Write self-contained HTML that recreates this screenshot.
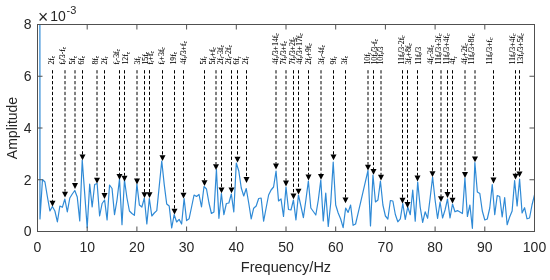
<!DOCTYPE html>
<html><head><meta charset="utf-8"><style>
html,body{margin:0;padding:0;background:#fff;}
svg{display:block;}
.ax{font-family:"Liberation Sans",Arial,sans-serif;fill:#262626;font-size:14px;}
.lb{font-family:"Liberation Serif","Times New Roman",serif;fill:#000;stroke:#000;stroke-width:0.6px;font-size:79.0px;}
.lb .s{font-size:54.0px;}
</style></head><body>
<svg width="550" height="280" viewBox="0 0 550 280">
<rect x="0" y="0" width="550" height="280" fill="#fff"/>
<defs><clipPath id="c"><rect x="37.50" y="24.50" width="497.00" height="207.00"/></clipPath></defs>
<polyline clip-path="url(#c)" points="37.50,-5000.00 39.98,219.00 42.47,179.50 44.95,182.00 47.44,197.00 49.92,211.00 52.41,206.50 54.89,211.00 57.38,221.80 59.86,206.00 62.35,207.30 64.83,199.00 67.32,211.80 69.81,198.00 72.29,194.00 74.78,190.50 77.26,197.00 79.75,221.00 82.23,160.00 84.72,193.90 87.20,227.70 89.69,184.00 92.17,207.00 94.66,184.50 97.14,183.50 99.62,216.00 102.11,203.50 104.59,200.00 107.08,220.00 109.56,185.00 112.05,188.50 114.53,214.70 117.02,200.00 119.50,179.00 121.99,224.70 124.47,180.00 126.96,198.00 129.44,211.00 131.93,213.50 134.41,215.30 136.90,184.00 139.38,205.00 141.87,207.00 144.35,198.00 146.84,224.00 149.32,198.50 151.81,216.00 154.29,213.00 156.78,210.60 159.26,186.00 161.75,161.00 164.24,184.60 166.72,204.00 169.20,206.00 171.69,228.00 174.17,214.70 176.66,222.00 179.14,219.40 181.63,224.00 184.11,198.50 186.60,220.60 189.08,218.80 191.57,207.00 194.05,195.00 196.54,196.50 199.03,194.50 201.51,207.00 204.00,186.50 206.48,189.00 208.97,203.00 211.45,213.50 213.94,212.00 216.42,169.50 218.91,218.30 221.39,193.50 223.88,214.70 226.36,203.50 228.84,203.00 231.33,194.00 233.81,211.80 236.30,163.00 238.78,171.00 241.27,188.00 243.75,196.00 246.24,188.50 248.72,203.00 251.21,218.80 253.69,208.20 256.18,206.00 258.66,198.50 261.15,198.00 263.63,221.20 266.12,208.00 268.61,195.00 271.09,190.00 273.57,187.00 276.06,171.00 278.54,201.00 281.03,199.00 283.51,216.50 286.00,187.00 288.49,209.50 290.97,210.00 293.45,200.00 295.94,220.00 298.43,195.00 300.91,206.00 303.39,217.70 305.88,200.00 308.37,181.00 310.85,208.00 313.33,211.50 315.82,215.00 318.31,200.00 320.79,180.00 323.27,221.00 325.76,193.00 328.25,226.50 330.73,203.00 333.21,162.00 335.70,205.00 338.19,213.00 340.67,219.00 343.15,227.70 345.64,208.00 348.12,212.40 350.61,205.00 353.09,225.30 355.58,224.00 358.06,213.30 360.55,202.60 363.03,191.90 365.52,181.20 368.00,170.50 370.49,226.00 372.97,175.00 375.46,202.00 377.94,200.00 380.43,181.00 382.91,205.00 385.40,216.00 387.88,219.00 390.37,200.50 392.85,201.00 395.34,214.50 397.82,221.80 400.31,218.80 402.79,203.50 405.28,219.40 407.76,207.00 410.25,214.70 412.73,190.00 415.22,221.20 417.70,182.00 420.19,207.00 422.67,222.40 425.16,211.80 427.64,218.30 430.13,198.00 432.61,177.00 435.10,200.00 437.58,218.50 440.07,202.00 442.56,218.00 445.04,210.00 447.52,199.00 450.01,218.00 452.50,204.00 454.98,211.80 457.46,210.60 459.95,212.00 462.44,213.50 464.92,178.00 467.40,216.50 469.89,205.00 472.38,228.30 474.86,162.50 477.34,192.00 479.83,193.50 482.31,211.00 484.80,220.00 487.28,219.00 489.77,208.00 492.25,184.50 494.74,214.70 497.22,195.50 499.71,196.50 502.19,217.00 504.68,197.50 507.16,224.70 509.65,217.00 512.13,211.00 514.62,180.50 517.11,206.00 519.59,179.00 522.08,213.00 524.56,207.70 527.04,218.80 529.53,218.00 532.01,205.00 534.50,195.00" fill="none" stroke="#2f8ad6" stroke-width="1.2" stroke-linejoin="round"/>
<g stroke="#000" stroke-width="1" stroke-dasharray="3.3,2.1" fill="none"><line x1="52.50" y1="70.20" x2="52.50" y2="200.80"/><line x1="65.00" y1="70.20" x2="65.00" y2="191.70"/><line x1="75.00" y1="70.20" x2="75.00" y2="183.10"/><line x1="82.50" y1="70.20" x2="82.50" y2="154.50"/><line x1="97.00" y1="70.20" x2="97.00" y2="177.70"/><line x1="104.50" y1="70.20" x2="104.50" y2="193.10"/><line x1="119.50" y1="70.20" x2="119.50" y2="173.90"/><line x1="124.50" y1="70.20" x2="124.50" y2="175.70"/><line x1="137.00" y1="70.20" x2="137.00" y2="178.60"/><line x1="144.50" y1="70.20" x2="144.50" y2="192.20"/><line x1="149.50" y1="70.20" x2="149.50" y2="192.20"/><line x1="162.50" y1="70.20" x2="162.50" y2="155.20"/><line x1="174.50" y1="70.20" x2="174.50" y2="208.80"/><line x1="183.50" y1="70.20" x2="183.50" y2="192.80"/><line x1="204.50" y1="70.20" x2="204.50" y2="180.20"/><line x1="216.00" y1="70.20" x2="216.00" y2="164.20"/><line x1="221.50" y1="70.20" x2="221.50" y2="187.40"/><line x1="231.50" y1="70.20" x2="231.50" y2="187.40"/><line x1="237.50" y1="70.20" x2="237.50" y2="156.80"/><line x1="246.50" y1="70.20" x2="246.50" y2="177.10"/><line x1="276.00" y1="70.20" x2="276.00" y2="163.60"/><line x1="286.00" y1="70.20" x2="286.00" y2="180.60"/><line x1="293.50" y1="70.20" x2="293.50" y2="193.50"/><line x1="298.50" y1="70.20" x2="298.50" y2="188.80"/><line x1="308.50" y1="70.20" x2="308.50" y2="174.60"/><line x1="321.00" y1="70.20" x2="321.00" y2="173.90"/><line x1="333.50" y1="70.20" x2="333.50" y2="154.50"/><line x1="345.50" y1="70.20" x2="345.50" y2="197.50"/><line x1="368.00" y1="70.20" x2="368.00" y2="164.80"/><line x1="373.50" y1="70.20" x2="373.50" y2="169.00"/><line x1="381.00" y1="70.20" x2="381.00" y2="174.80"/><line x1="402.50" y1="70.20" x2="402.50" y2="197.80"/><line x1="407.50" y1="70.20" x2="407.50" y2="202.10"/><line x1="417.50" y1="70.20" x2="417.50" y2="175.60"/><line x1="432.50" y1="70.20" x2="432.50" y2="171.30"/><line x1="441.00" y1="70.20" x2="441.00" y2="196.30"/><line x1="447.50" y1="70.20" x2="447.50" y2="192.10"/><line x1="452.50" y1="70.20" x2="452.50" y2="197.80"/><line x1="465.00" y1="70.20" x2="465.00" y2="172.10"/><line x1="475.00" y1="70.20" x2="475.00" y2="156.40"/><line x1="493.50" y1="70.20" x2="493.50" y2="177.60"/><line x1="515.50" y1="70.20" x2="515.50" y2="173.70"/><line x1="519.50" y1="70.20" x2="519.50" y2="171.40"/></g>
<g fill="#000" stroke="none"><polygon points="49.50,200.80 55.50,200.80 52.50,206.60"/><polygon points="62.00,191.70 68.00,191.70 65.00,197.50"/><polygon points="72.00,183.10 78.00,183.10 75.00,188.90"/><polygon points="79.50,154.50 85.50,154.50 82.50,160.30"/><polygon points="94.00,177.70 100.00,177.70 97.00,183.50"/><polygon points="101.50,193.10 107.50,193.10 104.50,198.90"/><polygon points="116.50,173.90 122.50,173.90 119.50,179.70"/><polygon points="121.50,175.70 127.50,175.70 124.50,181.50"/><polygon points="134.00,178.60 140.00,178.60 137.00,184.40"/><polygon points="141.50,192.20 147.50,192.20 144.50,198.00"/><polygon points="146.50,192.20 152.50,192.20 149.50,198.00"/><polygon points="159.50,155.20 165.50,155.20 162.50,161.00"/><polygon points="171.50,208.80 177.50,208.80 174.50,214.60"/><polygon points="180.50,192.80 186.50,192.80 183.50,198.60"/><polygon points="201.50,180.20 207.50,180.20 204.50,186.00"/><polygon points="213.00,164.20 219.00,164.20 216.00,170.00"/><polygon points="218.50,187.40 224.50,187.40 221.50,193.20"/><polygon points="228.50,187.40 234.50,187.40 231.50,193.20"/><polygon points="234.50,156.80 240.50,156.80 237.50,162.60"/><polygon points="243.50,177.10 249.50,177.10 246.50,182.90"/><polygon points="273.00,163.60 279.00,163.60 276.00,169.40"/><polygon points="283.00,180.60 289.00,180.60 286.00,186.40"/><polygon points="290.50,193.50 296.50,193.50 293.50,199.30"/><polygon points="295.50,188.80 301.50,188.80 298.50,194.60"/><polygon points="305.50,174.60 311.50,174.60 308.50,180.40"/><polygon points="318.00,173.90 324.00,173.90 321.00,179.70"/><polygon points="330.50,154.50 336.50,154.50 333.50,160.30"/><polygon points="342.50,197.50 348.50,197.50 345.50,203.30"/><polygon points="365.00,164.80 371.00,164.80 368.00,170.60"/><polygon points="370.50,169.00 376.50,169.00 373.50,174.80"/><polygon points="378.00,174.80 384.00,174.80 381.00,180.60"/><polygon points="399.50,197.80 405.50,197.80 402.50,203.60"/><polygon points="404.50,202.10 410.50,202.10 407.50,207.90"/><polygon points="414.50,175.60 420.50,175.60 417.50,181.40"/><polygon points="429.50,171.30 435.50,171.30 432.50,177.10"/><polygon points="438.00,196.30 444.00,196.30 441.00,202.10"/><polygon points="444.50,192.10 450.50,192.10 447.50,197.90"/><polygon points="449.50,197.80 455.50,197.80 452.50,203.60"/><polygon points="462.00,172.10 468.00,172.10 465.00,177.90"/><polygon points="472.00,156.40 478.00,156.40 475.00,162.20"/><polygon points="490.50,177.60 496.50,177.60 493.50,183.40"/><polygon points="512.50,173.70 518.50,173.70 515.50,179.50"/><polygon points="516.50,171.40 522.50,171.40 519.50,177.20"/></g>
<g class="lb"><text transform="translate(53.60,64.60) rotate(-90) scale(0.0990,0.1)"><tspan dy="-0.00">2f</tspan><tspan class="s" dx="-2.00" dy="12.00">c</tspan></text><text transform="translate(65.00,64.60) rotate(-90) scale(0.0990,0.1)"><tspan dy="-0.00">f</tspan><tspan class="s" dx="-2.00" dy="12.00">r</tspan><tspan dy="-12.00">/3-f</tspan><tspan class="s" dx="-2.00" dy="12.00">c</tspan></text><text transform="translate(75.40,64.60) rotate(-90) scale(0.0990,0.1)"><tspan dy="-0.00">5f</tspan><tspan class="s" dx="-2.00" dy="12.00">c</tspan></text><text transform="translate(83.50,64.60) rotate(-90) scale(0.0990,0.1)"><tspan dy="-0.00">6f</tspan><tspan class="s" dx="-2.00" dy="12.00">c</tspan></text><text transform="translate(97.80,64.60) rotate(-90) scale(0.0990,0.1)"><tspan dy="-0.00">8f</tspan><tspan class="s" dx="-2.00" dy="12.00">c</tspan></text><text transform="translate(106.70,64.60) rotate(-90) scale(0.0990,0.1)"><tspan dy="-0.00">2f</tspan><tspan class="s" dx="-2.00" dy="12.00">r</tspan></text><text transform="translate(119.20,64.60) rotate(-90) scale(0.0990,0.1)"><tspan dy="-0.00">f</tspan><tspan class="s" dx="-2.00" dy="12.00">r</tspan><tspan dy="-12.00">-3f</tspan><tspan class="s" dx="-2.00" dy="12.00">c</tspan></text><text transform="translate(128.40,64.60) rotate(-90) scale(0.0990,0.1)"><tspan dy="-0.00">12f</tspan><tspan class="s" dx="-2.00" dy="12.00">c</tspan></text><text transform="translate(140.20,64.60) rotate(-90) scale(0.0990,0.1)"><tspan dy="-0.00">3f</tspan><tspan class="s" dx="-2.00" dy="12.00">r</tspan></text><text transform="translate(147.50,64.60) rotate(-90) scale(0.0990,0.1)"><tspan dy="-0.00">15f</tspan><tspan class="s" dx="-2.00" dy="12.00">c</tspan></text><text transform="translate(152.50,64.60) rotate(-90) scale(0.0990,0.1)"><tspan dy="-0.00">f</tspan><tspan class="s" dx="-2.00" dy="12.00">r</tspan><tspan dy="-12.00">+f</tspan><tspan class="s" dx="-2.00" dy="12.00">c</tspan></text><text transform="translate(163.70,64.60) rotate(-90) scale(0.0990,0.1)"><tspan dy="-0.00">f</tspan><tspan class="s" dx="-2.00" dy="12.00">r</tspan><tspan dy="-12.00">+3f</tspan><tspan class="s" dx="-2.00" dy="12.00">c</tspan></text><text transform="translate(176.10,64.60) rotate(-90) scale(0.0990,0.1)"><tspan dy="-0.00">19f</tspan><tspan class="s" dx="-2.00" dy="12.00">c</tspan></text><text transform="translate(185.50,64.60) rotate(-90) scale(0.0990,0.1)"><tspan dy="-0.00">4f</tspan><tspan class="s" dx="-2.00" dy="12.00">r</tspan><tspan dy="-12.00">/3+f</tspan><tspan class="s" dx="-2.00" dy="12.00">c</tspan></text><text transform="translate(205.80,64.60) rotate(-90) scale(0.0990,0.1)"><tspan dy="-0.00">5f</tspan><tspan class="s" dx="-2.00" dy="12.00">r</tspan></text><text transform="translate(214.90,64.60) rotate(-90) scale(0.0990,0.1)"><tspan dy="-0.00">5f</tspan><tspan class="s" dx="-2.00" dy="12.00">r</tspan><tspan dy="-12.00">+f</tspan><tspan class="s" dx="-2.00" dy="12.00">c</tspan></text><text transform="translate(222.70,64.60) rotate(-90) scale(0.0990,0.1)"><tspan dy="-0.00">2f</tspan><tspan class="s" dx="-2.00" dy="12.00">r</tspan><tspan dy="-12.00">-3f</tspan><tspan class="s" dx="-2.00" dy="12.00">c</tspan></text><text transform="translate(231.10,64.60) rotate(-90) scale(0.0990,0.1)"><tspan dy="-0.00">2f</tspan><tspan class="s" dx="-2.00" dy="12.00">r</tspan><tspan dy="-12.00">-2f</tspan><tspan class="s" dx="-2.00" dy="12.00">c</tspan></text><text transform="translate(239.30,64.60) rotate(-90) scale(0.0990,0.1)"><tspan dy="-0.00">6f</tspan><tspan class="s" dx="-2.00" dy="12.00">r</tspan></text><text transform="translate(247.70,64.60) rotate(-90) scale(0.0990,0.1)"><tspan dy="-0.00">2f</tspan><tspan class="s" dx="-2.00" dy="12.00">r</tspan></text><text transform="translate(278.10,64.60) rotate(-90) scale(0.0990,0.1)"><tspan dy="-0.00">4f</tspan><tspan class="s" dx="-2.00" dy="12.00">r</tspan><tspan dy="-12.00">/3+14f</tspan><tspan class="s" dx="-2.00" dy="12.00">c</tspan></text><text transform="translate(286.10,64.60) rotate(-90) scale(0.0990,0.1)"><tspan dy="-0.00">7f</tspan><tspan class="s" dx="-2.00" dy="12.00">r</tspan><tspan dy="-12.00">/3+f</tspan><tspan class="s" dx="-2.00" dy="12.00">c</tspan></text><text transform="translate(294.90,64.60) rotate(-90) scale(0.0990,0.1)"><tspan dy="-0.00">7f</tspan><tspan class="s" dx="-2.00" dy="12.00">r</tspan><tspan dy="-12.00">/3+2f</tspan><tspan class="s" dx="-2.00" dy="12.00">c</tspan></text><text transform="translate(301.90,64.60) rotate(-90) scale(0.0990,0.1)"><tspan dy="-0.00">4f</tspan><tspan class="s" dx="-2.00" dy="12.00">r</tspan><tspan dy="-12.00">/3+17f</tspan><tspan class="s" dx="-2.00" dy="12.00">c</tspan></text><text transform="translate(310.60,64.60) rotate(-90) scale(0.0990,0.1)"><tspan dy="-0.00">2f</tspan><tspan class="s" dx="-2.00" dy="12.00">r</tspan><tspan dy="-12.00">+9f</tspan><tspan class="s" dx="-2.00" dy="12.00">c</tspan></text><text transform="translate(323.70,64.60) rotate(-90) scale(0.0990,0.1)"><tspan dy="-0.00">3f</tspan><tspan class="s" dx="-2.00" dy="12.00">r</tspan><tspan dy="-12.00">-4f</tspan><tspan class="s" dx="-2.00" dy="12.00">c</tspan></text><text transform="translate(335.80,64.60) rotate(-90) scale(0.0990,0.1)"><tspan dy="-0.00">9f</tspan><tspan class="s" dx="-2.00" dy="12.00">r</tspan></text><text transform="translate(346.60,64.60) rotate(-90) scale(0.0990,0.1)"><tspan dy="-0.00">3f</tspan><tspan class="s" dx="-2.00" dy="12.00">c</tspan></text><text transform="translate(369.50,64.60) rotate(-90) scale(0.0990,0.1)"><tspan dy="-0.00">10f</tspan><tspan class="s" dx="-2.00" dy="12.00">r</tspan></text><text transform="translate(376.90,64.60) rotate(-90) scale(0.0990,0.1)"><tspan dy="-0.00">10f</tspan><tspan class="s" dx="-2.00" dy="12.00">r</tspan><tspan dy="-12.00">/3-f</tspan><tspan class="s" dx="-2.00" dy="12.00">c</tspan></text><text transform="translate(382.80,64.60) rotate(-90) scale(0.0990,0.1)"><tspan dy="-0.00">10f</tspan><tspan class="s" dx="-2.00" dy="12.00">r</tspan><tspan dy="-12.00">/3</tspan></text><text transform="translate(403.90,64.60) rotate(-90) scale(0.0990,0.1)"><tspan dy="-0.00">11f</tspan><tspan class="s" dx="-2.00" dy="12.00">r</tspan><tspan dy="-12.00">/3-2f</tspan><tspan class="s" dx="-2.00" dy="12.00">c</tspan></text><text transform="translate(411.00,64.60) rotate(-90) scale(0.0990,0.1)"><tspan dy="-0.00">3f</tspan><tspan class="s" dx="-2.00" dy="12.00">r</tspan><tspan dy="-12.00">+8f</tspan><tspan class="s" dx="-2.00" dy="12.00">c</tspan></text><text transform="translate(420.50,64.60) rotate(-90) scale(0.0990,0.1)"><tspan dy="-0.00">11f</tspan><tspan class="s" dx="-2.00" dy="12.00">r</tspan><tspan dy="-12.00">/3</tspan></text><text transform="translate(432.90,64.60) rotate(-90) scale(0.0990,0.1)"><tspan dy="-0.00">4f</tspan><tspan class="s" dx="-2.00" dy="12.00">r</tspan><tspan dy="-12.00">-3f</tspan><tspan class="s" dx="-2.00" dy="12.00">c</tspan></text><text transform="translate(441.00,64.60) rotate(-90) scale(0.0990,0.1)"><tspan dy="-0.00">11f</tspan><tspan class="s" dx="-2.00" dy="12.00">r</tspan><tspan dy="-12.00">/3+3f</tspan><tspan class="s" dx="-2.00" dy="12.00">c</tspan></text><text transform="translate(449.00,64.60) rotate(-90) scale(0.0990,0.1)"><tspan dy="-0.00">11f</tspan><tspan class="s" dx="-2.00" dy="12.00">r</tspan><tspan dy="-12.00">/3+4f</tspan><tspan class="s" dx="-2.00" dy="12.00">c</tspan></text><text transform="translate(455.40,64.60) rotate(-90) scale(0.0990,0.1)"><tspan dy="-0.00">4f</tspan><tspan class="s" dx="-2.00" dy="12.00">r</tspan></text><text transform="translate(466.80,64.60) rotate(-90) scale(0.0990,0.1)"><tspan dy="-0.00">4f</tspan><tspan class="s" dx="-2.00" dy="12.00">r</tspan><tspan dy="-12.00">+2f</tspan><tspan class="s" dx="-2.00" dy="12.00">c</tspan></text><text transform="translate(473.70,64.60) rotate(-90) scale(0.0990,0.1)"><tspan dy="-0.00">11f</tspan><tspan class="s" dx="-2.00" dy="12.00">r</tspan><tspan dy="-12.00">/3+8f</tspan><tspan class="s" dx="-2.00" dy="12.00">c</tspan></text><text transform="translate(491.70,64.60) rotate(-90) scale(0.0990,0.1)"><tspan dy="-0.00">11f</tspan><tspan class="s" dx="-2.00" dy="12.00">r</tspan><tspan dy="-12.00">/3+f</tspan><tspan class="s" dx="-2.00" dy="12.00">c</tspan></text><text transform="translate(515.20,64.60) rotate(-90) scale(0.0990,0.1)"><tspan dy="-0.00">11f</tspan><tspan class="s" dx="-2.00" dy="12.00">r</tspan><tspan dy="-12.00">/3+4f</tspan><tspan class="s" dx="-2.00" dy="12.00">c</tspan></text><text transform="translate(523.20,64.60) rotate(-90) scale(0.0990,0.1)"><tspan dy="-0.00">13f</tspan><tspan class="s" dx="-2.00" dy="12.00">r</tspan><tspan dy="-12.00">/3+5f</tspan><tspan class="s" dx="-2.00" dy="12.00">c</tspan></text></g>
<path d="M37.50,231.50V226.50M37.50,24.50V29.50M87.20,231.50V226.50M87.20,24.50V29.50M136.90,231.50V226.50M136.90,24.50V29.50M186.60,231.50V226.50M186.60,24.50V29.50M236.30,231.50V226.50M236.30,24.50V29.50M286.00,231.50V226.50M286.00,24.50V29.50M335.70,231.50V226.50M335.70,24.50V29.50M385.40,231.50V226.50M385.40,24.50V29.50M435.10,231.50V226.50M435.10,24.50V29.50M484.80,231.50V226.50M484.80,24.50V29.50M534.50,231.50V226.50M534.50,24.50V29.50M37.50,231.50H42.50M534.50,231.50H529.50M37.50,179.75H42.50M534.50,179.75H529.50M37.50,128.00H42.50M534.50,128.00H529.50M37.50,76.25H42.50M534.50,76.25H529.50M37.50,24.50H42.50M534.50,24.50H529.50" stroke="#505050" stroke-width="1" fill="none"/>
<rect x="37.50" y="24.50" width="497.00" height="207.00" fill="none" stroke="#505050" stroke-width="1"/>
<g class="ax"><text x="37.50" y="252.00" text-anchor="middle">0</text><text x="87.20" y="252.00" text-anchor="middle">10</text><text x="136.90" y="252.00" text-anchor="middle">20</text><text x="186.60" y="252.00" text-anchor="middle">30</text><text x="236.30" y="252.00" text-anchor="middle">40</text><text x="286.00" y="252.00" text-anchor="middle">50</text><text x="335.70" y="252.00" text-anchor="middle">60</text><text x="385.40" y="252.00" text-anchor="middle">70</text><text x="435.10" y="252.00" text-anchor="middle">80</text><text x="484.80" y="252.00" text-anchor="middle">90</text><text x="534.50" y="252.00" text-anchor="middle">100</text><text x="31.50" y="236.30" text-anchor="end">0</text><text x="31.50" y="184.55" text-anchor="end">2</text><text x="31.50" y="132.80" text-anchor="end">4</text><text x="31.50" y="81.05" text-anchor="end">6</text><text x="31.50" y="29.30" text-anchor="end">8</text>
<text x="38.0" y="22.8" font-size="17.5px">&#215;</text><text x="50.3" y="20.5">10</text><text x="66.5" y="14.4" font-size="11px">-3</text>
<text x="286" y="272" text-anchor="middle" font-size="14.5px">Frequency/Hz</text>
<text transform="translate(16.5,128) rotate(-90)" text-anchor="middle" font-size="14px">Amplitude</text>
</g>
</svg>
</body></html>
